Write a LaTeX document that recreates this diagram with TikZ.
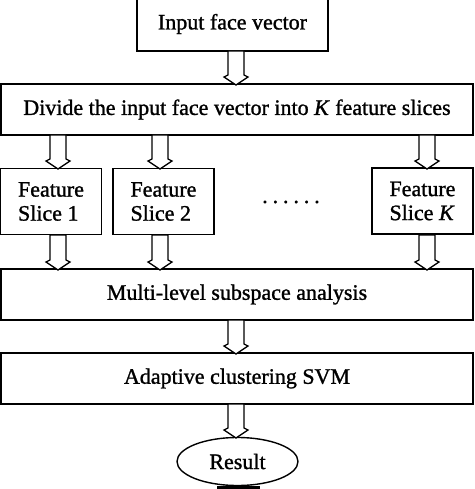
\documentclass[tikz,border=0pt]{standalone}
\usepackage{fontspec}
\setmainfont[FakeBold=1.2,AutoFakeBold=1.2]{Liberation Serif}
\usetikzlibrary{shapes.geometric}
\begin{document}
\begin{tikzpicture}[x=1pt,y=-1pt,
  txt/.style={font=\fontsize{22}{24}\selectfont\bfseries},
  boxnode/.style={draw,line width=1.4pt,txt,inner sep=0pt},
  slicebox/.style={boxnode,minimum width=101pt,minimum height=66pt,align=left},
  blockarrow/.style={draw,line width=1.3pt,fill=white}]
\useasboundingbox (0,0) rectangle (474,489);
\newcommand{\barrow}[3]{%
  \draw[blockarrow] (#1-8,#2) -- (#1-8,#3-10) -- (#1-12,#3-8) -- (#1,#3) -- (#1+12,#3-8) -- (#1+8,#3-10) -- (#1+8,#2) -- cycle;}
% boxes
\node[boxnode,minimum width=191pt,minimum height=54pt] (input) at (232.5,24) {Input face vector};
\node[boxnode,minimum width=472pt,minimum height=51pt] (divide) at (237,109.5) {Divide the input face vector into \textit{K} feature slices};
\node[slicebox] (s1) at (51,201.5) {Feature\\Slice 1};
\node[slicebox] (s2) at (163.5,201.5) {Feature\\Slice 2};
\node[slicebox] (sk) at (422.5,201) {Feature\\Slice \textit{K}};
\node[txt,anchor=base] (dots) at (291,203) {.\hspace{4.9pt}.\hspace{4.9pt}.\hspace{4.9pt}.\hspace{4.9pt}.\hspace{4.9pt}.};
\node[boxnode,minimum width=472pt,minimum height=51pt] (multi) at (237,294.5) {Multi-level subspace analysis};
\node[boxnode,minimum width=472pt,minimum height=51pt] (svm) at (237,378.5) {Adaptive clustering SVM};
\node[ellipse,draw,line width=1.4pt,txt,minimum width=121pt,minimum height=48pt,inner sep=0pt] (result) at (237.5,461.5) {Result};
\fill (217,486) rectangle (260,489);
% arrows
\barrow{236}{51}{85}
\barrow{58}{135}{169}
\barrow{160}{135}{169}
\barrow{427}{135}{169}
\barrow{58}{235}{270}
\barrow{160}{235}{270}
\barrow{427}{235}{270}
\barrow{236}{320}{354}
\barrow{236}{404}{438}
\end{tikzpicture}
\end{document}
